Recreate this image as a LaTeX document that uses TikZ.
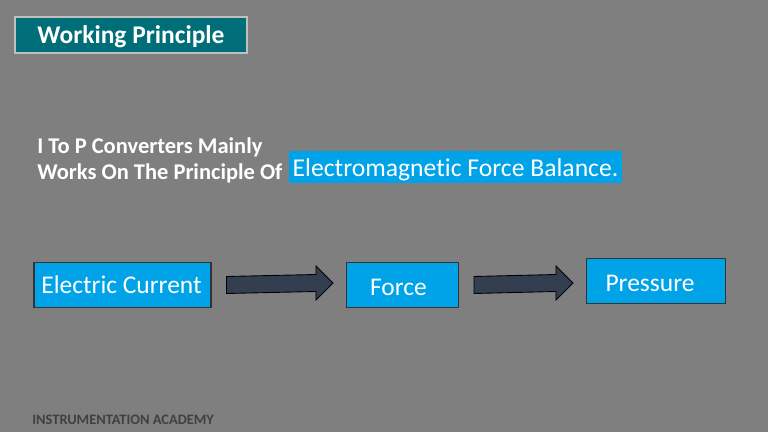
\documentclass[tikz,border=0pt]{standalone}
\usepackage{fontspec}
\setmainfont{Carlito}[Ligatures=NoCommon]
\usepackage{tikz}
\usetikzlibrary{arrows.meta,positioning,calc}

\definecolor{slidegray}{RGB}{127,127,127}
\definecolor{titleteal}{RGB}{0,110,120}
\definecolor{boxblue}{RGB}{0,162,232}
\definecolor{arrowslate}{RGB}{51,63,80}
\definecolor{footgray}{RGB}{64,64,64}

\begin{document}
\begin{tikzpicture}[x=0.02cm,y=-0.02cm,
  box/.style={draw=black!80,fill=boxblue,line width=0.6pt,inner sep=0pt},
  boxtext/.style={text=white,font=\fontsize{14.5}{17}\selectfont,inner sep=0pt,text height=0.64em,text depth=0pt},
  linetext/.style={anchor=base west,inner sep=0pt,text=white,font=\bfseries\fontsize{12.8}{15}\selectfont},
  blockarrow/.style={draw=black,fill=arrowslate,line width=0.5pt,line join=miter}]
  % background
  \fill[slidegray] (0,0) rectangle (768,432);
  \useasboundingbox (0,0) rectangle (768,432);
  % title
  \node[draw=black!25,fill=titleteal,text=white,line width=0.7pt,
        minimum width=232*0.02cm,minimum height=36*0.02cm,inner sep=0pt,
        text height=0.64em+3.4pt,text depth=0pt,
        font=\bfseries\fontsize{14.5}{17}\selectfont] (title) at (131,35) {Working Principle};
  % statement
  \node[linetext] (line1) at (37,154) {I To P Converters Mainly};
  \node[linetext] (line2) at (37,180) {Works On The Principle Of};
  \node[fill=boxblue,text=white,inner sep=0pt,minimum width=333*0.02cm,minimum height=32*0.02cm,
        text height=0.64em+4.5pt,text depth=0pt,
        font=\fontsize{14.6}{17}\selectfont] (balance) at (455.5,167) {Electromagnetic Force Balance.};
  % chain
  \node[box,minimum width=177*0.02cm,minimum height=45*0.02cm] (ec) at (122.5,285) {};
  \node[box,minimum width=112*0.02cm,minimum height=45*0.02cm] (force) at (402.5,285) {};
  \node[box,minimum width=139*0.02cm,minimum height=45*0.02cm] (pressure) at (656,281) {};
  \node[boxtext] (ec-t) at ($(ec.center)+(-1,3)$) {Electric Current};
  \node[boxtext] (force-t) at ($(force.center)+(-4,5)$) {Force};
  \node[boxtext] (pressure-t) at ($(pressure.center)+(-6,5)$) {Pressure};
  \foreach \s/\e in {ec/force,force/pressure}{
    \coordinate (\s-a) at ($(\s.east)+(15,0)$);
    \coordinate (\s-b) at ($(\s.east -| \e.west)+(-13,-2)$);
    \draw[blockarrow] ($(\s-a)+(0,-8.5)$) -- ($(\s-b)+(-17,-8.5)$) -- ($(\s-b)+(-17,-17)$)
      -- (\s-b) -- ($(\s-b)+(-17,17)$) -- ($(\s-b)+(-17,8.5)$) -- ($(\s-a)+(0,8.5)$) -- cycle;
  }
  % footer
  \node[anchor=base west,inner sep=0pt,text=footgray,font=\bfseries\fontsize{8.2}{10}\selectfont] (footer) at (32,424) {INSTRUMENTATION ACADEMY};
\end{tikzpicture}
\end{document}
